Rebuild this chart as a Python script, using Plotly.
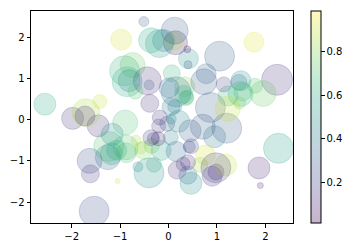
import plotly.graph_objects as go
import plotly.colors as pc

x = [1.764, 0.400, 0.979, 2.241, 1.868, -0.977, 0.950, -0.151, -0.103, 0.411,
     0.144, 1.454, 0.761, 0.122, 0.444, 0.334, 1.494, -0.205, 0.313, -0.854,
     -2.553, 0.654, 0.864, -0.742, 2.270, -1.454, 0.046, -0.187, 1.533, 1.469,
     0.155, 0.378, -0.888, -1.981, -0.348, 0.156, 1.230, 1.202, -0.387, -0.302,
     -1.049, -1.420, -1.706, 1.951, -0.510, -0.438, -1.253, 0.777, -1.614, -0.213,
     -0.895, 0.387, -0.511, -1.181, -0.028, 0.428, 0.067, 0.302, -0.634, -0.363,
     -0.672, -0.360, -0.813, -1.726, 0.177, -0.402, -1.630, 0.463, -0.907, 0.052,
     0.729, 0.129, 1.139, -1.235, 0.402, -0.685, -0.871, -0.579, -0.312, 0.056,
     -1.165, 0.901, 0.466, -1.536, 1.488, 1.896, 1.179, -0.180, -1.071, 1.054,
     -0.403, 1.222, 0.208, 0.977, 0.356, 0.707, 0.011, 1.786, 0.127, 0.402]
y = [1.883, -1.348, -1.270, 0.969, -1.173, 1.944, -0.414, -0.747, 1.923, 1.481,
     1.868, 0.906, -0.861, 1.910, -0.268, 0.802, 0.947, -0.155, 0.614, 0.922,
     0.376, -1.099, 0.298, 1.326, -0.695, -0.150, -0.435, 1.849, 0.672, 0.407,
     -0.770, 0.539, -0.674, 0.032, -0.636, 0.676, 0.577, -0.208, 0.396, -1.093,
     -1.491, 0.439, 0.167, 0.635, 2.383, 0.944, -0.913, 1.117, -1.316, -0.462,
     -0.068, 1.713, -0.745, -0.826, -0.098, -0.663, 1.127, -1.080, -1.147, -0.438,
     -0.498, 1.930, 0.949, 0.088, -1.225, 0.844, -1.000, -1.545, 1.188, 0.317,
     0.921, 0.319, 0.857, -0.651, -1.034, 0.682, -0.803, -0.690, -0.456, 0.017,
     -0.354, -1.375, -0.644, -2.223, 0.625, -1.602, -1.104, 0.052, -0.740, 1.543,
     -1.293, 0.267, -0.039, -1.168, 0.523, -0.172, 0.772, 0.824, 2.163, 1.337]
colors = [0.95, 0.35, 0.10, 0.15, 0.12, 0.93, 0.40, 0.55, 0.40, 0.50,
          0.10, 0.35, 0.92, 0.85, 0.30, 0.80, 0.50, 0.20, 0.60, 0.60,
          0.60, 0.85, 0.30, 0.75, 0.55, 0.15, 0.45, 0.55, 0.70, 0.80,
          0.35, 0.65, 0.70, 0.15, 0.75, 0.40, 0.65, 0.30, 0.15, 0.65,
          0.92, 0.90, 0.85, 0.75, 0.30, 0.15, 0.35, 0.35, 0.15, 0.10,
          0.70, 0.05, 0.80, 0.55, 0.25, 0.20, 0.65, 0.15, 0.50, 0.20,
          0.85, 0.60, 0.45, 0.12, 0.15, 0.30, 0.25, 0.50, 0.65, 0.40,
          0.30, 0.45, 0.20, 0.70, 0.15, 0.70, 0.70, 0.85, 0.15, 0.50,
          0.50, 0.15, 0.25, 0.25, 0.65, 0.12, 0.90, 0.15, 0.60, 0.30,
          0.50, 0.90, 0.45, 0.20, 0.70, 0.30, 0.35, 0.70, 0.30, 0.30]
diameters = [20, 18, 16, 31, 22, 21, 22, 20, 22, 20,
             24, 16, 20, 18, 22, 20, 20, 14, 18, 30,
             22, 15, 30, 25, 30, 22, 15, 28, 18, 12,
             20, 14, 25, 22, 15, 30, 20, 30, 18, 15,
             5, 14, 28, 26, 10, 28, 25, 20, 18, 14,
             25, 7, 18, 22, 15, 12, 17, 14, 10, 16,
             10, 25, 22, 20, 18, 10, 25, 22, 30, 18,
             26, 14, 15, 30, 15, 15, 20, 12, 12, 10,
             22, 20, 15, 30, 25, 6, 22, 15, 20, 30,
             30, 25, 22, 30, 15, 25, 20, 15, 27, 8]

x_ticks = [-2, -1, 0, 1, 2]
y_ticks = [-2, -1, 0, 1, 2]
cbar_ticks = [0.2, 0.4, 0.6, 0.8]

viridis = pc.sequential.Viridis
n = len(viridis)
scale = []
for i, h in enumerate(viridis):
    r, g, b = pc.hex_to_rgb(h)
    scale.append([i / (n - 1), f"rgba({r},{g},{b},0.3)"])

cmin, cmax = 0.012, 0.987
font = dict(family="DejaVu Sans", size=10, color="black")

fig = go.Figure(go.Scatter(
    x=x, y=y, mode="markers",
    marker=dict(
        size=diameters, sizemode="diameter",
        color=colors, colorscale=scale, cmin=cmin, cmax=cmax,
        line=dict(width=1, color=colors, colorscale=scale, cmin=cmin, cmax=cmax),
        colorbar=dict(
            x=1.07, xanchor="left", xref="paper", y=0.5, yanchor="middle",
            len=1, lenmode="fraction", thickness=10, xpad=0, ypad=0,
            outlinewidth=1, outlinecolor="black",
            ticks="outside", ticklen=3.5, tickwidth=1, tickcolor="black",
            tickvals=cbar_ticks, tickfont=font,
        ),
    ),
    hoverinfo="skip",
))

axis_common = dict(
    showgrid=False, zeroline=False, showline=True, mirror=True,
    linecolor="black", linewidth=1, ticks="outside", ticklen=3.5,
    tickwidth=1, tickcolor="black", tickfont=font,
)
fig.update_layout(
    width=354, height=252,
    margin=dict(l=29, r=57, t=10, b=24),
    plot_bgcolor="white", paper_bgcolor="white",
    showlegend=False,
    xaxis=dict(range=[-2.84, 2.57], tickvals=x_ticks, **axis_common),
    yaxis=dict(range=[-2.51, 2.64], tickvals=y_ticks, **axis_common),
)
fig.write_html("out.html")
